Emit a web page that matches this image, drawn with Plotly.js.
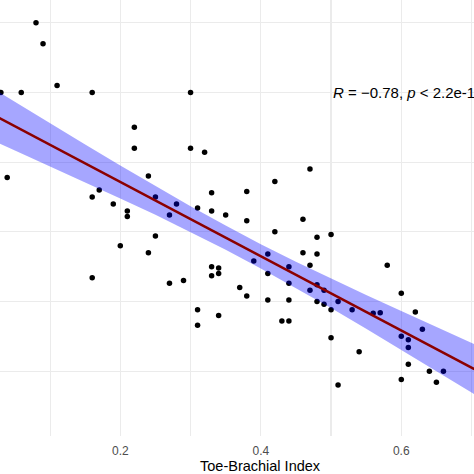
<!DOCTYPE html>
<html>
<head>
<meta charset="utf-8">
<script src="https://cdn.plot.ly/plotly-3.0.1.min.js"></script>
<style>html,body{margin:0;padding:0;background:#fff;}#chart{width:474px;height:474px;}</style>
</head>
<body>
<div id="chart"></div>
<script>
// Toe-Brachial Index (x) vs. outcome (y, axis labels cropped in the reference)
const tbi = [0.080,0.090,0.030,0.059,0.110,0.160,0.300,0.220,0.220,0.300,0.320,0.039,0.240,0.250,0.280,0.270,0.160,0.170,0.190,0.210,0.210,0.310,0.330,0.330,0.350,0.250,0.470,0.420,0.380,0.380,0.460,0.420,0.480,0.500,0.200,0.240,0.160,0.270,0.290,0.330,0.340,0.330,0.340,0.370,0.310,0.310,0.340,0.380,0.390,0.410,0.410,0.440,0.440,0.460,0.480,0.470,0.480,0.470,0.490,0.410,0.440,0.480,0.490,0.500,0.510,0.530,0.560,0.570,0.430,0.440,0.500,0.540,0.580,0.600,0.620,0.630,0.600,0.610,0.610,0.610,0.600,0.640,0.650,0.660,0.510];
const outcome = [60.0,57.0,50.0,50.0,51.0,50.0,50.0,45.0,42.0,42.0,41.4,37.8,38.0,35.0,34.0,32.4,35.0,36.0,34.0,33.0,32.2,33.4,35.6,33.0,32.4,29.4,39.0,37.2,35.8,31.6,31.8,30.0,29.2,29.6,28.0,27.0,23.4,22.6,23.0,25.0,24.8,23.7,24.0,22.0,18.8,16.6,18.0,20.8,25.8,26.8,24.0,25.0,22.6,27.0,26.8,25.2,22.4,21.6,21.6,20.2,20.2,20.0,19.6,18.8,20.0,18.8,18.3,18.4,17.2,17.2,14.8,12.8,25.2,21.2,18.5,16.0,15.0,14.5,13.4,11.0,8.8,10.0,8.4,10.0,8.0];

// Linear fit and its 95% confidence band
const fitX     = [0.028,0.05,0.10,0.15,0.20,0.25,0.30,0.35,0.40,0.45,0.50,0.55,0.60,0.65,0.704];
const fitY     = [46.32,45.15,42.48,39.82,37.15,34.49,31.82,29.16,26.49,23.83,21.17,18.50,15.84,13.17,10.29];
const fitUpper = [49.99,48.63,45.56,42.52,39.51,36.55,33.66,30.89,28.23,25.71,23.29,20.92,18.62,16.33,13.89];
const fitLower = [42.65,41.67,39.40,37.12,34.79,32.43,29.98,27.43,24.75,21.95,19.05,16.08,13.06,10.01,6.69];

const statLabel = "<i>R</i> = \u22120.78, <i>p</i> &lt; 2.2e-16";
const xTitle = "Toe-Brachial Index";

const bandX = fitX.concat(fitX.slice().reverse());
const bandY = fitUpper.concat(fitLower.slice().reverse());

const traces = [
  {type:'scatter', mode:'markers', x:tbi, y:outcome,
   marker:{color:'#000000', size:5.5}, hoverinfo:'skip', showlegend:false},
  {type:'scatter', mode:'lines', x:bandX, y:bandY, fill:'toself',
   fillcolor:'rgba(0,0,255,0.35)', line:{width:0}, hoverinfo:'skip', showlegend:false},
  {type:'scatter', mode:'lines', x:fitX, y:fitY,
   line:{color:'#8B0000', width:2.6}, hoverinfo:'skip', showlegend:false}
];

const font = "'Liberation Sans', Arial, Helvetica, sans-serif";
const layout = {
  width:474, height:474,
  margin:{l:0, r:0, t:0, b:38},
  paper_bgcolor:'#ffffff', plot_bgcolor:'#ffffff',
  showlegend:false,
  font:{family:font},
  xaxis:{range:[0.02875,0.7035], tick0:0, dtick:0.2, tickformat:'.1f',
         showgrid:true, gridcolor:'#ebebeb', gridwidth:1.1,
         minor:{dtick:0.1, tick0:0, showgrid:true, gridcolor:'#ebebeb', gridwidth:1.1},
         zeroline:false, showline:false, ticks:'', ticklabelstandoff:6,
         tickfont:{family:font, size:12, color:'#4d4d4d'}},
  yaxis:{range:[0.70,63.26], tick0:0, dtick:10, showgrid:true, gridcolor:'#ebebeb', gridwidth:1.1,
         zeroline:false, showline:false, showticklabels:false, ticks:''},
  annotations:[
    {text:statLabel, xref:'paper', yref:'y', x:331/474, y:50.0, xanchor:'left', yanchor:'middle',
     showarrow:false, font:{family:font, size:15, color:'#000000'}},
    {text:xTitle, xref:'x', yref:'paper', x:0.4, y:-30/436, xanchor:'center', yanchor:'middle',
     showarrow:false, font:{family:font, size:14.5, color:'#000000'}}
  ]
};

Plotly.newPlot('chart', traces, layout, {staticPlot:true, displayModeBar:false});
</script>
</body>
</html>
